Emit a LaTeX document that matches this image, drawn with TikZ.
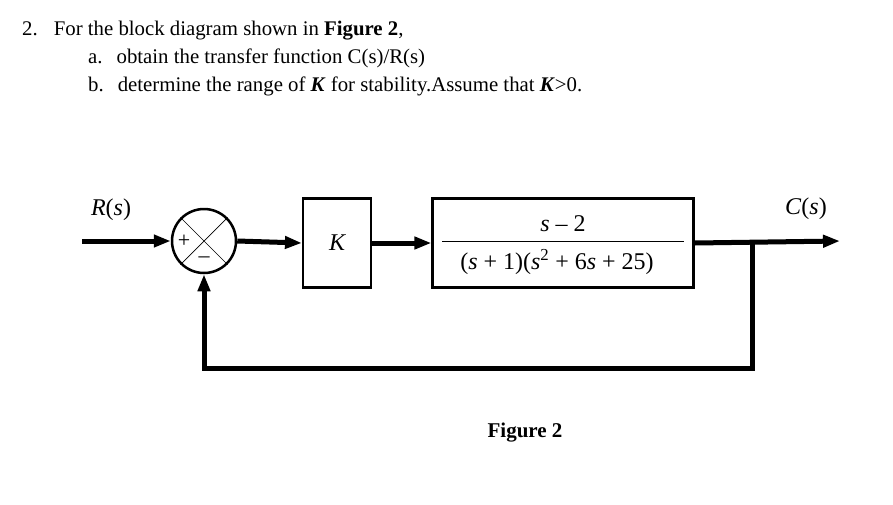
\documentclass[tikz,border=0pt]{standalone}
\usepackage{fontspec}
\setmainfont{Liberation Serif}
\usetikzlibrary{arrows.meta}
\newcommand{\vs}{\textit{s}}
\begin{document}
\begin{tikzpicture}[x=1pt,y=-1pt,
  sig/.style={line width=5pt,-{Triangle[length=17pt,width=12pt]}},
  blk/.style={draw,line width=2.2pt,minimum height=89pt,inner sep=0pt},
  txt/.style={anchor=base west,inner sep=0pt,font=\fontsize{20.8}{22}\selectfont},
  lab/.style={inner sep=0pt,font=\fontsize{24}{26}\selectfont}]
\useasboundingbox (0,0) rectangle (893,504);
\node[txt] (t1) at (22,35) {2.\hspace{16pt}For the block diagram shown in \textbf{Figure 2},};
\node[txt] (t2) at (88,63) {a.\hspace{14pt}obtain the transfer function C(s)/R(s)};
\node[txt] (t3) at (88,91) {b.\hspace{14pt}determine the range of \textbf{\textit{K}} for stability.Assume that \textbf{\textit{K}}>0.};
\node[circle,draw,line width=2.5pt,minimum size=64pt,inner sep=0pt] (sum) at (204,241) {};
\draw[line width=0.7pt] (sum.north west) -- (sum.south east) (sum.north east) -- (sum.south west);
\node[font=\fontsize{22}{24}\selectfont,inner sep=0pt] (plus) at (184,241) {+};
\node[font=\fontsize{22}{24}\selectfont,inner sep=0pt] (minus) at (204,260) {--};
\node[blk,minimum width=68pt,font=\fontsize{24}{26}\selectfont\itshape] (K) at (337,243) {K};
\node[blk,minimum width=261pt] (G) at (563,243) {};
\node[lab] (num) at (563,224) {\vs\ -- 2};
\draw[line width=1pt] (442,241) -- (684,241);
\node[lab] (den) at (557,262) {(\vs\ + 1)(\vs$^{\mathrm{2}}$ + 6\vs\ + 25)};
\node[lab] (R) at (111,210) {\textit{R}(\vs)};
\node[lab] (C) at (806,209) {\textit{C}(\vs)};
\coordinate (in) at (82,241);
\coordinate (out) at (840,241);
\coordinate (br) at (752,241);
\coordinate (c1) at (752,368);
\coordinate (c2) at (204,368);
\draw[sig] (in) -- (sum.west);
\draw[sig] (sum.east) -- (K.west);
\draw[sig] (K.east) -- (G.west);
\draw[sig] (G.east) -- (out);
\draw[sig] (br) -- (c1) -- (c2) -- (sum.south);
\node[font=\bfseries\fontsize{21}{23}\selectfont,inner sep=0pt] (fig) at (525,433) {Figure 2};
\end{tikzpicture}
\end{document}
